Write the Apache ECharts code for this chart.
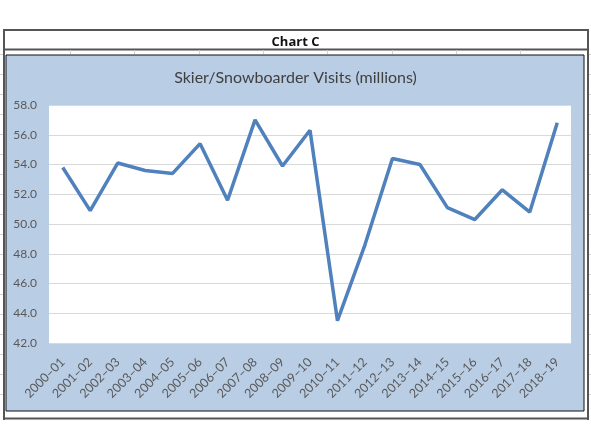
<!DOCTYPE html>
<html>
<head>
    <meta charset="utf-8">
    <script src="https://cdn.jsdelivr.net/npm/echarts@6/dist/echarts.min.js"></script>
    <style>
        html, body {margin: 0; padding: 0; background: #fff;}
    </style>
</head>
<body>
<div id="main" style="width: 591px;height:428px;"></div>
<script type="text/javascript">
    // season labels and visits (millions)
    var seasons = ['2000\u201301', '2001\u201302', '2002\u201303', '2003\u201304', '2004\u201305',
        '2005\u201306', '2006\u201307', '2007\u201308', '2008\u201309', '2009\u201310',
        '2010\u201311', '2011\u201312', '2012\u201313', '2013\u201314', '2014\u201315',
        '2015\u201316', '2016\u201317', '2017\u201318', '2018\u201319'];
    var visits = [53.8, 50.9, 54.1, 53.6, 53.4, 55.4, 51.6, 57.0, 53.9, 56.3,
        43.5, 48.6, 54.4, 54.0, 51.1, 50.3, 52.3, 50.8, 56.8];
    var yMin = 42, yMax = 58, yStep = 2;

    var myChart = echarts.init(document.getElementById('main'));

    // sheet frame: cell borders around the chart
    var frame = [
        {type: 'rect', shape: {x: 6, y: 55, width: 578, height: 356}, style: {fill: '#b9cde5', stroke: '#111', lineWidth: 1}, z: -10},
        {type: 'line', shape: {x1: 3, y1: 30, x2: 589, y2: 30}, style: {stroke: '#555', lineWidth: 2}},
        {type: 'line', shape: {x1: 3, y1: 49.5, x2: 589, y2: 49.5}, style: {stroke: '#555', lineWidth: 2}},
        {type: 'line', shape: {x1: 3, y1: 418.5, x2: 589, y2: 418.5}, style: {stroke: '#555', lineWidth: 2}},
        {type: 'line', shape: {x1: 4, y1: 29, x2: 4, y2: 420}, style: {stroke: '#555', lineWidth: 2}},
        {type: 'line', shape: {x1: 588, y1: 29, x2: 588, y2: 420}, style: {stroke: '#555', lineWidth: 2}}
    ];
    for (var k = 0; k < 8; k++) {
        var cx = Math.round(70 + 64.3 * k) + 0.5;
        frame.push({type: 'line', shape: {x1: cx, y1: 50, x2: cx, y2: 54}, style: {stroke: '#d0d0d0', lineWidth: 1}});
    }
    for (var r = 0; r < 18; r++) {
        var ry = 54.5 + 20 * r;
        frame.push({type: 'line', shape: {x1: 0, y1: ry, x2: 3, y2: ry}, style: {stroke: '#d0d0d0', lineWidth: 1}});
        frame.push({type: 'line', shape: {x1: 589, y1: ry, x2: 591, y2: ry}, style: {stroke: '#d0d0d0', lineWidth: 1}});
    }

    myChart.setOption({
        animation: false,
        backgroundColor: '#fff',
        title: [{
            text: 'Chart C',
            left: 'center',
            top: 31,
            textStyle: {fontFamily: 'Open Sans', fontSize: 13, fontWeight: 'bold', color: '#111'}
        }, {
            text: 'Skier/Snowboarder Visits (millions)',
            left: 'center',
            top: 65,
            textStyle: {fontFamily: 'Lato', fontSize: 16, fontWeight: 'normal', color: '#404040'}
        }],
        graphic: frame,
        grid: {
            left: 49,
            right: 20,
            top: 105,
            bottom: 85,
            show: true,
            backgroundColor: '#fff',
            borderWidth: 0
        },
        xAxis: {
            type: 'category',
            data: seasons,
            boundaryGap: true,
            axisLine: {show: false},
            axisTick: {show: false},
            axisLabel: {
                rotate: 45,
                margin: 17,
                interval: 0,
                fontFamily: 'Lato',
                fontSize: 12.5,
                color: '#595959'
            }
        },
        yAxis: {
            type: 'value',
            min: yMin,
            max: yMax,
            interval: yStep,
            axisLine: {show: false},
            axisTick: {show: false},
            splitLine: {lineStyle: {color: '#d9d9d9', width: 1}},
            axisLabel: {
                margin: 12,
                fontFamily: 'Lato',
                fontSize: 12,
                color: '#595959',
                formatter: function (v) { return v.toFixed(1); }
            }
        },
        series: [{
            name: 'Visits',
            type: 'line',
            data: visits,
            showSymbol: false,
            lineStyle: {color: '#4f81bd', width: 3.5},
            itemStyle: {color: '#4f81bd'}
        }]
    });
</script>
</body>
</html>
